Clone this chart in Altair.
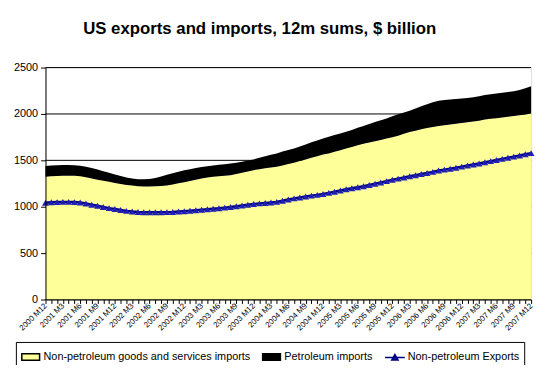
import altair as alt
import pandas as pd

tick_labels = [
    "2000 M12", "2001 M3", "2001 M6", "2001 M9", "2001 M12",
    "2002 M3", "2002 M6", "2002 M9", "2002 M12",
    "2003 M3", "2003 M6", "2003 M9", "2003 M12",
    "2004 M3", "2004 M6", "2004 M9", "2004 M12",
    "2005 M3", "2005 M6", "2005 M9", "2005 M12",
    "2006 M3", "2006 M6", "2006 M9", "2006 M12",
    "2007 M3", "2007 M6", "2007 M9", "2007 M12",
]

# monthly 12m sums, 2000 M12 .. 2007 M12 ($ billion)
non_petroleum_imports = [
    1323, 1328, 1332, 1334, 1335, 1333, 1328, 1318, 1305, 1292, 1280, 1268,
    1256, 1245, 1235, 1228, 1222, 1219, 1218, 1220, 1224, 1230, 1240, 1252,
    1264, 1278, 1290, 1305, 1315, 1322, 1328, 1334, 1340, 1352, 1365, 1380,
    1394, 1405, 1415, 1424, 1430, 1445, 1460, 1475, 1492, 1510, 1528, 1545,
    1562, 1575, 1592, 1610, 1627, 1645, 1662, 1678, 1692, 1706, 1720, 1735,
    1750, 1766, 1788, 1805, 1820, 1835, 1848, 1860, 1870, 1878, 1886, 1894,
    1902, 1910, 1918, 1927, 1940, 1948, 1955, 1962, 1970, 1978, 1986, 1995,
    2004,
]
total_imports = [
    1440, 1445, 1448, 1450, 1450, 1448, 1443, 1432, 1418, 1400, 1382, 1365,
    1348, 1330, 1315, 1303, 1297, 1296, 1300, 1310, 1325, 1345, 1362, 1378,
    1392, 1405, 1418, 1428, 1436, 1444, 1452, 1459, 1466, 1475, 1485, 1497,
    1510, 1528, 1545, 1560, 1575, 1595, 1612, 1628, 1650, 1672, 1694, 1715,
    1735, 1755, 1772, 1790, 1808, 1828, 1850, 1870, 1892, 1912, 1932, 1952,
    1975, 1997, 2015, 2035, 2058, 2082, 2105, 2125, 2142, 2150, 2155, 2160,
    2166, 2172, 2180, 2190, 2205, 2212, 2220, 2228, 2236, 2245, 2258, 2278,
    2298,
]
non_petroleum_exports = [
    1043, 1048, 1050, 1052, 1052, 1050, 1045, 1035, 1022, 1010, 998, 985,
    975, 965, 955, 948, 943, 940, 940, 940, 940, 942, 944, 948,
    952, 957, 963, 968, 973, 978, 983, 990, 997, 1005, 1013, 1021,
    1030, 1036, 1041, 1046, 1052, 1064, 1078, 1090, 1100, 1110, 1120, 1128,
    1138, 1149, 1162, 1175, 1188, 1200, 1210, 1220, 1234, 1248, 1262, 1276,
    1290, 1303, 1315, 1328, 1340, 1352, 1364, 1376, 1390, 1400, 1410, 1420,
    1432, 1444, 1455, 1466, 1480, 1492, 1504, 1516, 1528, 1540, 1552, 1565,
    1578,
]
y_ticks = [0, 500, 1000, 1500, 2000, 2500]
series_names = [
    "Non-petroleum goods and services imports",
    "Petroleum imports",
    "Non-petroleum Exports",
]

n = len(non_petroleum_imports)
df = pd.DataFrame({
    "i": list(range(n)),
    "nonpet": non_petroleum_imports,
    "total": total_imports,
    "exports": non_petroleum_exports,
})
grid_df = pd.DataFrame({"v": y_ticks})
legend_df = pd.DataFrame({"series": series_names})

FONT = "Liberation Sans"
js_labels = "[" + ",".join("'%s'" % s for s in tick_labels) + "]"
label_expr = "datum.value % 3 == 0 ? " + js_labels + "[datum.value / 3] : ''"

x_scale = alt.Scale(domain=[0, n - 1], nice=False, zero=False)
y_scale = alt.Scale(domain=[0, 2500], nice=False)

x_axis = alt.Axis(
    values=list(range(n)), labelExpr=label_expr, labelAngle=315,
    labelAlign="right", labelBaseline="middle", labelFontSize=8,
    labelFont=FONT, labelColor="black", labelOverlap=False, labelFlush=False,
    labelBound=False, labelPadding=1, tickSize=4, tickColor="black",
    domainColor="black", grid=False, title=None, zindex=1,
)
y_axis = alt.Axis(
    values=y_ticks, format="d", labelFontSize=11, labelFont=FONT,
    labelColor="black", tickSize=5, tickColor="black", domainColor="black",
    grid=False, title=None, zindex=1, labelPadding=3,
)

X = alt.X("i:Q", scale=x_scale, axis=x_axis)

grid = alt.Chart(grid_df).mark_rule(color="black", strokeWidth=1).encode(
    y=alt.Y("v:Q", scale=y_scale, axis=y_axis)
)

yellow = alt.Chart(df).mark_area(color="#FFFF99", opacity=1).encode(
    x=X, y=alt.Y("nonpet:Q", scale=y_scale, axis=y_axis)
)
black = alt.Chart(df).mark_area(color="black", opacity=1).encode(
    x=X, y=alt.Y("total:Q", scale=y_scale, axis=y_axis), y2="nonpet:Q"
)
line = alt.Chart(df).mark_line(color="#000080", strokeWidth=2.5).encode(
    x=X, y=alt.Y("exports:Q", scale=y_scale, axis=y_axis)
)
pts = alt.Chart(df).mark_point(
    shape="triangle-up", filled=True, color="#1E1EB4", size=48, opacity=1
).encode(x=X, y=alt.Y("exports:Q", scale=y_scale, axis=y_axis))

rect_path = "M-0.9,-0.33H0.9V0.33H-0.9Z"
exp_path = "M-1,0H1M-0.32,0.26L0,-0.3L0.32,0.26Z"
legend = alt.Legend(
    title=None, orient="none", direction="horizontal", legendX=-30,
    legendY=278, strokeColor="black", fillColor="white", padding=4,
    labelFont=FONT, labelFontSize=11, labelColor="black", labelLimit=0,
    symbolSize=400, symbolStrokeWidth=1.5, labelOffset=2, columnPadding=9,
    cornerRadius=0,
)
leg = alt.Chart(legend_df).mark_point(filled=True, opacity=1).encode(
    color=alt.Color("series:N", scale=alt.Scale(domain=series_names,
                    range=["#FFFF99", "#000000", "#1E1EB4"]), legend=legend),
    shape=alt.Shape("series:N", scale=alt.Scale(domain=series_names,
                    range=[rect_path, rect_path, exp_path]), legend=legend),
    stroke=alt.Stroke("series:N", scale=alt.Scale(domain=series_names,
                      range=["#000000", "#000000", "#000080"]), legend=legend),
).transform_filter("false")

chart = alt.layer(grid, yellow, black, line, pts, leg).properties(
    width=492, height=235,
    autosize=alt.AutoSizeParams(type="none"),
    padding={"left": 38, "top": 58, "right": 8, "bottom": 64},
    title=alt.TitleParams(
        "US exports and imports, 12m sums, $ billion", font=FONT,
        fontSize=17, fontWeight="bold", color="black", anchor="middle",
        dx=-29, offset=11, baseline="alphabetic",
    ),
).configure_view(fill="#C0C0C0", stroke=None).configure(background="white")

chart.save("out.html", embed_options={"renderer": "svg", "actions": False})
